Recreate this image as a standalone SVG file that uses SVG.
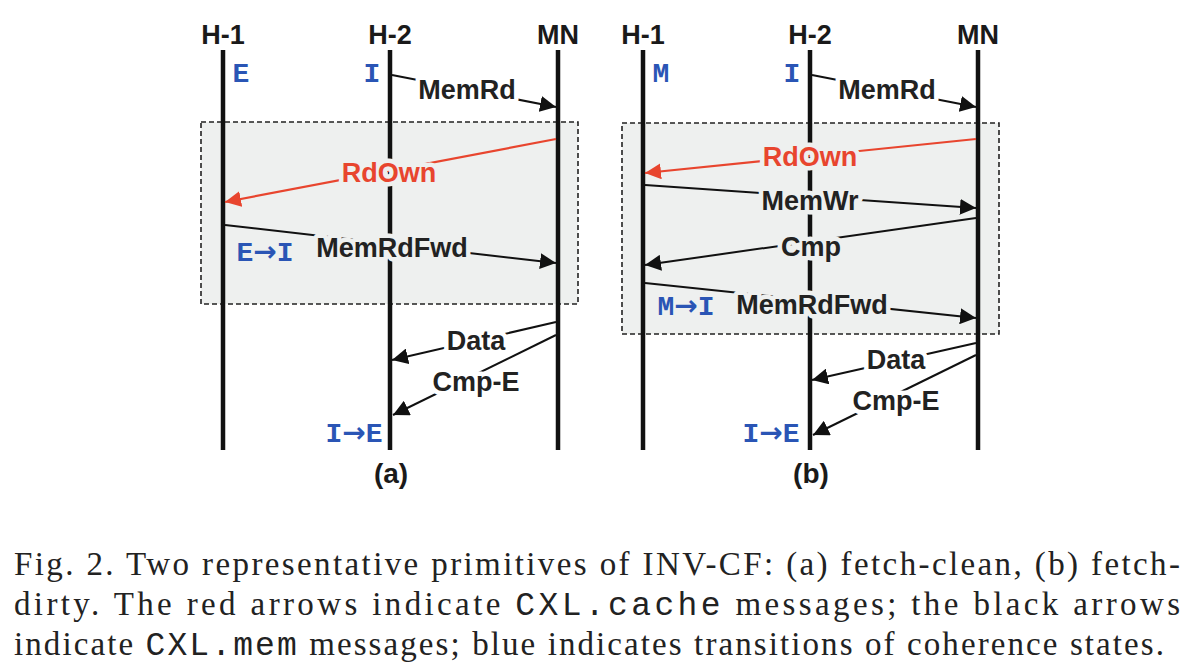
<svg xmlns="http://www.w3.org/2000/svg" width="1195" height="672" viewBox="0 0 1195 672">
<style>
.ll{stroke:#111;stroke-width:4.5}
.box{fill:#eef0ef;stroke:#222;stroke-width:1.6;stroke-dasharray:5,3}
.hd{font:bold 27px "Liberation Sans",Arial,sans-serif;fill:#1a1a1a;text-anchor:middle}
.lb{font:bold 27px "Liberation Sans",Arial,sans-serif;fill:#222;text-anchor:middle;paint-order:stroke;stroke-width:9;stroke-linejoin:round}
.in{stroke:#eef0ef}.out{stroke:#fff}
.red{fill:#e8452e}
.st{font:bold 28px "Liberation Mono","Courier New",monospace;fill:#2a55b5;text-anchor:middle}
.arw{font-family:"DejaVu Sans",sans-serif;font-weight:bold}
.bk{stroke:#111;stroke-width:2;fill:none;marker-end:url(#ab)}
.rd{stroke:#e8452e;stroke-width:2.2;fill:none;marker-end:url(#ar)}
.cap{font:33px "Liberation Serif","Times New Roman",serif;fill:#222}
.mono{font-family:"Liberation Mono","Courier New",monospace}
</style>
<defs>
<marker id="ab" viewBox="0 0 10 10" refX="10" refY="5" markerWidth="16" markerHeight="16" markerUnits="userSpaceOnUse" orient="auto"><path d="M0,0 L10,5 L0,10 z" fill="#111"/></marker>
<marker id="ar" viewBox="0 0 10 10" refX="10" refY="5" markerWidth="16" markerHeight="16" markerUnits="userSpaceOnUse" orient="auto"><path d="M0,0 L10,5 L0,10 z" fill="#e8452e"/></marker>
</defs>
<rect width="1195" height="672" fill="#fff"/>
<rect class="box" x="201" y="122" width="377" height="182"/>
<rect class="box" x="622" y="123" width="377" height="211"/>
<g id="lifelines">
<g id="a-H1"><text class="hd" x="223" y="44">H-1</text><line class="ll" x1="223" y1="50" x2="223" y2="450"/></g>
<g id="a-H2"><text class="hd" x="390" y="44">H-2</text><line class="ll" x1="390" y1="50" x2="390" y2="450"/></g>
<g id="a-MN"><text class="hd" x="558" y="44">MN</text><line class="ll" x1="558" y1="50" x2="558" y2="450"/></g>
<g id="b-H1"><text class="hd" x="643" y="44">H-1</text><line class="ll" x1="643" y1="50" x2="643" y2="450"/></g>
<g id="b-H2"><text class="hd" x="810" y="44">H-2</text><line class="ll" x1="810" y1="50" x2="810" y2="450"/></g>
<g id="b-MN"><text class="hd" x="978" y="44">MN</text><line class="ll" x1="978" y1="50" x2="978" y2="450"/></g>
</g>
<g id="connectors">
<line class="bk" x1="392" y1="75" x2="556" y2="107"/>
<line class="rd" x1="556" y1="139" x2="225" y2="202"/>
<line class="bk" x1="225" y1="225" x2="556" y2="263"/>
<line class="bk" x1="556" y1="322" x2="392" y2="360"/>
<line class="bk" x1="556" y1="335" x2="393" y2="415"/>
<line class="bk" x1="812" y1="75" x2="976" y2="107"/>
<line class="rd" x1="976" y1="139" x2="645" y2="173"/>
<line class="bk" x1="645" y1="185" x2="976" y2="208"/>
<line class="bk" x1="976" y1="218" x2="645" y2="265"/>
<line class="bk" x1="645" y1="283" x2="976" y2="318"/>
<line class="bk" x1="976" y1="343" x2="812" y2="380"/>
<line class="bk" x1="976" y1="355" x2="813" y2="435"/>
</g>
<g id="labels">
<text class="lb out" x="467" y="99">MemRd</text>
<text class="lb in red" x="389" y="182">RdOwn</text>
<text class="lb in" x="392" y="257">MemRdFwd</text>
<text class="lb out" x="476" y="350">Data</text>
<text class="lb out" x="476" y="391">Cmp-E</text>
<text class="lb out" x="887" y="99">MemRd</text>
<text class="lb in red" x="810" y="166">RdOwn</text>
<text class="lb in" x="810" y="210">MemWr</text>
<text class="lb in" x="811" y="256">Cmp</text>
<text class="lb in" x="812" y="314">MemRdFwd</text>
<text class="lb out" x="896" y="369">Data</text>
<text class="lb out" x="896" y="410">Cmp-E</text>
</g>
<g id="states">
<text class="st" x="241" y="82">E</text>
<text class="st" x="372" y="82">I</text>
<text class="st" x="265" y="261">E<tspan class="arw">→</tspan>I</text>
<text class="st" x="354" y="442">I<tspan class="arw">→</tspan>E</text>
<text class="st" x="661" y="82">M</text>
<text class="st" x="792" y="82">I</text>
<text class="st" x="686" y="315">M<tspan class="arw">→</tspan>I</text>
<text class="st" x="771" y="442">I<tspan class="arw">→</tspan>E</text>
</g>
<text class="hd" x="391" y="483" style="font-size:28px">(a)</text>
<text class="hd" x="811" y="483" style="font-size:28px">(b)</text>
<g id="caption" class="cap">
<text x="14" y="575" textLength="1166" lengthAdjust="spacing">Fig. 2.  Two representative primitives of INV-CF: (a) fetch-clean, (b) fetch-</text>
<text x="14" y="615" textLength="1166" lengthAdjust="spacing">dirty. The red arrows indicate <tspan class="mono">CXL.cache</tspan> messages; the black arrows</text>
<text x="14" y="655" textLength="1150" lengthAdjust="spacing">indicate <tspan class="mono">CXL.mem</tspan> messages; blue indicates transitions of coherence states.</text>
</g>
</svg>
